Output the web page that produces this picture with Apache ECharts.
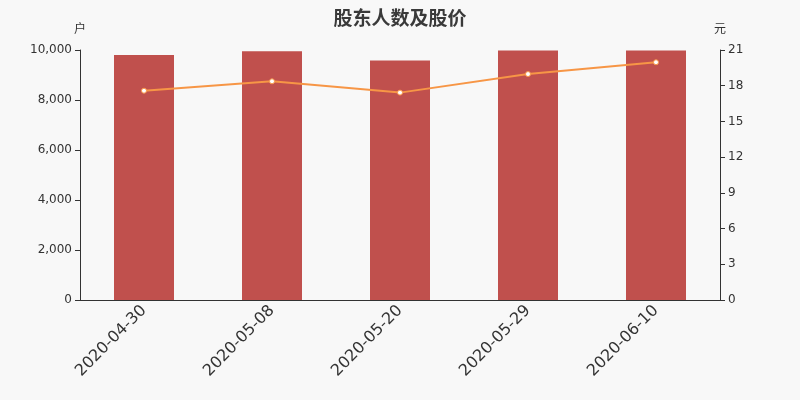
<!DOCTYPE html>
<html><head><meta charset="utf-8">
<script src="https://cdn.jsdelivr.net/npm/echarts@6/dist/echarts.min.js"></script>
<style>html,body{margin:0;padding:0;background:#f8f8f8}#c{width:800px;height:400px}</style>
</head><body><div id="c"></div>
<script>
var categories = ['2020-04-30','2020-05-08','2020-05-20','2020-05-29','2020-06-10'];
var holders = [9800, 9955, 9585, 9985, 9985];
var prices = [17.58, 18.37, 17.42, 18.98, 19.97];
var leftTicks = [0, 10000, 2000];
var rightTicks = [0, 21, 3];

var chart = echarts.init(document.getElementById('c'));
var font = '"DejaVu Sans", "Noto Sans CJK SC", sans-serif';
chart.setOption({
  backgroundColor: '#f8f8f8',
  animation: false,
  textStyle: {fontFamily: font},
  title: {text: '股东人数及股价', left: 'center', top: 2,
    textStyle: {fontSize: 19, fontWeight: 'bold', color: '#3a3a3a', lineHeight: 22, fontFamily: '"Noto Sans CJK SC", sans-serif'}},
  grid: {left: 80, right: 80, top: 50, bottom: 100},
  xAxis: {type: 'category', data: categories,
    axisLine: {lineStyle: {color: '#333'}},
    axisTick: {lineStyle: {color: '#333'}},
    axisLabel: {rotate: 45, fontSize: 16, color: '#333', margin: 8, fontFamily: font}},
  yAxis: [
    {type: 'value', name: '户', min: leftTicks[0], max: leftTicks[1], interval: leftTicks[2],
     nameTextStyle: {color: '#333', fontSize: 12, align: 'center'},
     nameGap: 14,
     splitLine: {show: false},
     axisLine: {show: true, lineStyle: {color: '#333'}},
     axisTick: {show: true, lineStyle: {color: '#333'}},
     axisLabel: {color: '#333', fontSize: 12, fontFamily: font}},
    {type: 'value', name: '元', min: rightTicks[0], max: rightTicks[1], interval: rightTicks[2],
     nameTextStyle: {color: '#333', fontSize: 12, align: 'center'},
     nameGap: 14,
     splitLine: {show: false},
     axisLine: {show: true, lineStyle: {color: '#333'}},
     axisTick: {show: true, lineStyle: {color: '#333'}},
     axisLabel: {color: '#333', fontSize: 12, fontFamily: font}}
  ],
  series: [
    {type: 'bar', data: holders, barWidth: 60, itemStyle: {color: '#c0504d'}},
    {type: 'line', yAxisIndex: 1, data: prices, symbol: 'circle', symbolSize: 5,
     lineStyle: {color: '#f79646', width: 2},
     itemStyle: {color: '#fff', borderColor: '#f79646', borderWidth: 1}}
  ]
});
</script></body></html>
